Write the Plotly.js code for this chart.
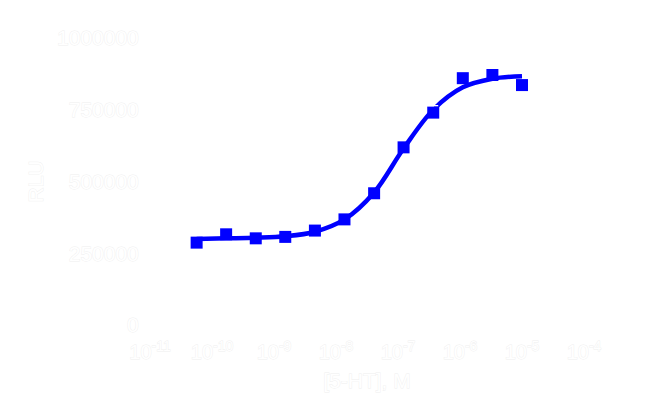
<!DOCTYPE html>
<html>
<head>
<meta charset="utf-8">
<script src="https://cdn.plot.ly/plotly-3.0.1.min.js"></script>
<style>
html,body{margin:0;padding:0;background:#fff;}
#chart{width:650px;height:418px;}
#chart svg text{stroke:#efefef;stroke-width:0.8px;paint-order:stroke;}
</style>
</head>
<body>
<div id="chart"></div>
<script>
// concentrations (M), 3-fold dilution series
var conc = [5.65e-11, 1.69e-10, 5.08e-10, 1.52e-9, 4.57e-9, 1.37e-8, 4.12e-8, 1.23e-7, 3.70e-7, 1.11e-6, 3.33e-6, 1.0e-5];
// measured response
var response = [287000, 316000, 302000, 307000, 329000, 368000, 459000, 619000, 740000, 860000, 871000, 836000];
// error (SEM) per point
var errors = [0, 0, 0, 0, 0, 0, 0, 0, 24000, 0, 0, 0];
// fitted curve
var fitConc = [5.65e-11, 1.69e-10, 5.08e-10, 1.52e-9, 4.57e-9, 1.37e-8, 4.12e-8, 1.23e-7, 3.70e-7, 1.11e-6, 3.33e-6, 1.0e-5];
var fitResp = [300000, 302000, 304000, 309000, 325000, 368000, 462000, 615000, 750000, 828000, 858000, 867000];
var xTicks = [1e-11, 1e-10, 1e-9, 1e-8, 1e-7, 1e-6, 1e-5, 1e-4];
var xTickText = ['10<sup>-11</sup>', '10<sup>-10</sup>', '10<sup>-9</sup>', '10<sup>-8</sup>', '10<sup>-7</sup>', '10<sup>-6</sup>', '10<sup>-5</sup>', '10<sup>-4</sup>'];
var yTicks = [0, 250000, 500000, 750000, 1000000];
var yTickText = ['0', '250000', '500000', '750000', '1000000'];

var textColor = '#ffffff';
var font = {family: 'Arial, "Liberation Sans", sans-serif', size: 21, color: textColor};
var xFont = {family: 'Arial, "Liberation Sans", sans-serif', size: 20, color: textColor};

var traces = [
  {
    x: fitConc, y: fitResp, type: 'scatter', mode: 'lines',
    line: {color: '#0000ff', width: 4.5, shape: 'spline', smoothing: 1},
    hoverinfo: 'skip', showlegend: false
  },
  {
    x: conc, y: response, type: 'scatter', mode: 'markers',
    marker: {symbol: 'square', size: 12, color: '#0000ff'},
    error_y: {type: 'data', array: errors, visible: true, color: '#ffffff', thickness: 1.5, width: 5},
    showlegend: false
  }
];

var layout = {
  width: 650, height: 418, autosize: false,
  margin: {l: 150, r: 66, t: 38, b: 93},
  paper_bgcolor: '#ffffff', plot_bgcolor: '#ffffff',
  font: font,
  showlegend: false,
  xaxis: {
    type: 'log', range: [-11, -4], tickvals: xTicks, ticktext: xTickText,
    showgrid: false, zeroline: false,
    showline: true, linecolor: textColor, linewidth: 2,
    ticks: 'outside', ticklen: 8, tickcolor: textColor, tickwidth: 2,
    tickfont: xFont,
    title: {text: '[5-HT], M', font: font, standoff: 11}
  },
  yaxis: {
    range: [0, 1000000], tickvals: yTicks, ticktext: yTickText,
    showgrid: false, zeroline: false,
    showline: true, linecolor: textColor, linewidth: 2,
    ticks: 'outside', ticklen: 5, tickcolor: textColor, tickwidth: 2,
    tickfont: font,
    title: {text: 'RLU', font: font, standoff: 8}
  }
};

Plotly.newPlot('chart', traces, layout, {displayModeBar: false, staticPlot: true});
</script>
</body>
</html>
